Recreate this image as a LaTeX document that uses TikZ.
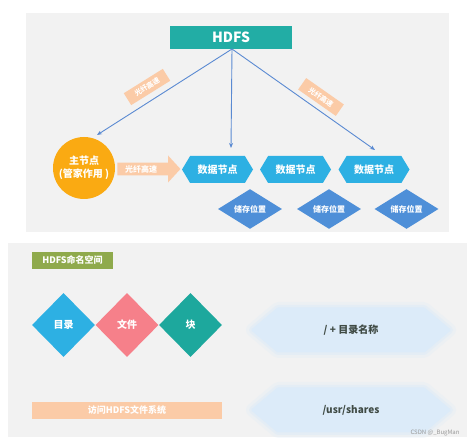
\documentclass[tikz,border=0pt]{standalone}
\usepackage{fontspec}
\setmainfont{Noto Sans CJK SC}
\usetikzlibrary{shapes.geometric,shapes.symbols,shapes.arrows,arrows.meta}
\definecolor{panel}{HTML}{F2F2F2}
\definecolor{hdfsc}{HTML}{22ADA5}
\definecolor{linec}{HTML}{5A8AD2}
\definecolor{masterc}{HTML}{FAAA12}
\definecolor{peach}{HTML}{FBCBA7}
\definecolor{hexc}{HTML}{2DB0E3}
\definecolor{storec}{HTML}{4E8FD8}
\definecolor{greenc}{HTML}{8FAA4C}
\definecolor{pinkc}{HTML}{F6808A}
\definecolor{blockc}{HTML}{1DA89D}
\definecolor{fuzzc}{HTML}{DCEBF9}
\definecolor{fuzztext}{HTML}{3F4A44}
\tikzset{
  wtext/.style={text=white,font=\bfseries},
  conn/.style={draw=linec,line width=0.9pt,-{Stealth[length=5pt,width=4pt]}},
  datahex/.style={signal,signal to=east and west,signal pointer angle=118,fill=hexc,
     minimum width=71pt,minimum height=27pt,inner sep=0pt,wtext,font=\bfseries\fontsize{10}{12}\selectfont},
  storedia/.style={diamond,fill=storec,minimum width=64pt,minimum height=36pt,inner sep=0pt,
     wtext,font=\bfseries\fontsize{8}{10}\selectfont},
  bigdia/.style={diamond,minimum width=63pt,minimum height=64pt,inner sep=0pt,
     wtext,font=\bfseries\fontsize{10}{12}\selectfont},
  tilted/.style={fill=peach,text=white,inner sep=2pt,minimum width=46pt,minimum height=14pt,
     font=\bfseries\fontsize{7}{8}\selectfont},
  fuzzy/.style={signal,signal to=east and west,signal pointer angle=80,fill=fuzzc,
     minimum width=196pt,minimum height=42pt,inner sep=0pt,line join=round,
     preaction={draw=fuzzc,line width=14pt,draw opacity=0.25},
     preaction={draw=fuzzc,line width=8pt,draw opacity=0.45},
     draw=fuzzc,line width=3pt,
     text=fuzztext,font=\bfseries\fontsize{10}{12}\selectfont},
}
\begin{document}
\begin{tikzpicture}[x=1pt,y=-1pt]
\useasboundingbox (0,0) rectangle (474,443);
\fill[white] (0,0) rectangle (474,443);
% panels
\fill[panel] (26,13) rectangle (449,232);
\fill[panel] (8,243) rectangle (467,437);

% top part
\node[fill=hdfsc,minimum width=122pt,minimum height=23pt,inner sep=0pt,text=white,
  font=\bfseries\fontsize{14}{16}\selectfont] (hdfs) at (231,37.5) {HDFS};
\node[circle,fill=masterc,minimum size=62pt,inner sep=0pt,align=center,text=white,
  font=\bfseries\fontsize{10}{13}\selectfont] (master) at (84,168) {主节点\\(管家作用 )};
\node[single arrow,fill=peach,minimum height=63pt,minimum width=27pt,
  single arrow head extend=4.5pt,single arrow tip angle=95,inner sep=0pt,
  text=white,font=\bfseries\fontsize{8}{10}\selectfont] (fiber) at (146,169) {\hspace*{-10pt}光纤高速};

\node[datahex] (d1) at (217.5,169.5) {数据节点};
\node[datahex] (d2) at (295.5,169.5) {数据节点};
\node[datahex] (d3) at (374,169.5) {数据节点};

\node[storedia] (s1) at (250,209) {储存位置};
\node[storedia] (s2) at (329,209) {储存位置};
\node[storedia] (s3) at (406.5,209) {储存位置};

\coordinate (hs) at (232,49);
\coordinate (e1) at (97,135);
\coordinate (e2) at (231,148);
\coordinate (e3) at (375,150);
\draw[conn] (hs) -- (e1);
\draw[conn] (hs) -- (e2);
\draw[conn] (hs) -- (e3);

\node[tilted,rotate=32] (l1) at (147,87) {光纤高速};
\node[tilted,rotate=-35] (l2) at (321,97) {光纤高速};

% bottom part
\node[fill=greenc,minimum width=81pt,minimum height=17pt,inner sep=0pt,text=white,
  font=\bfseries\fontsize{9}{11}\selectfont] (ns) at (72.5,260.5) {HDFS命名空间};
\node[bigdia,fill=hexc] (dir) at (63.5,325) {目录};
\node[bigdia,fill=pinkc] (file) at (127,325) {文件};
\node[bigdia,fill=blockc] (blk) at (190.5,325) {块};

\node[fuzzy] (f1) at (351,330) {/ + 目录名称};
\node[fuzzy] (f2) at (351,410) {/usr/shares};

\node[fill=peach,minimum width=190pt,minimum height=17pt,inner sep=0pt,text=white,
  font=\bfseries\fontsize{9}{11}\selectfont] (acc) at (127,410.5) {访问HDFS文件系统};

\node[text=gray!80,font=\fontsize{6}{7}\selectfont,inner sep=0pt] (wm) at (435,433) {CSDN @\_BugMan};
\end{tikzpicture}
\end{document}
